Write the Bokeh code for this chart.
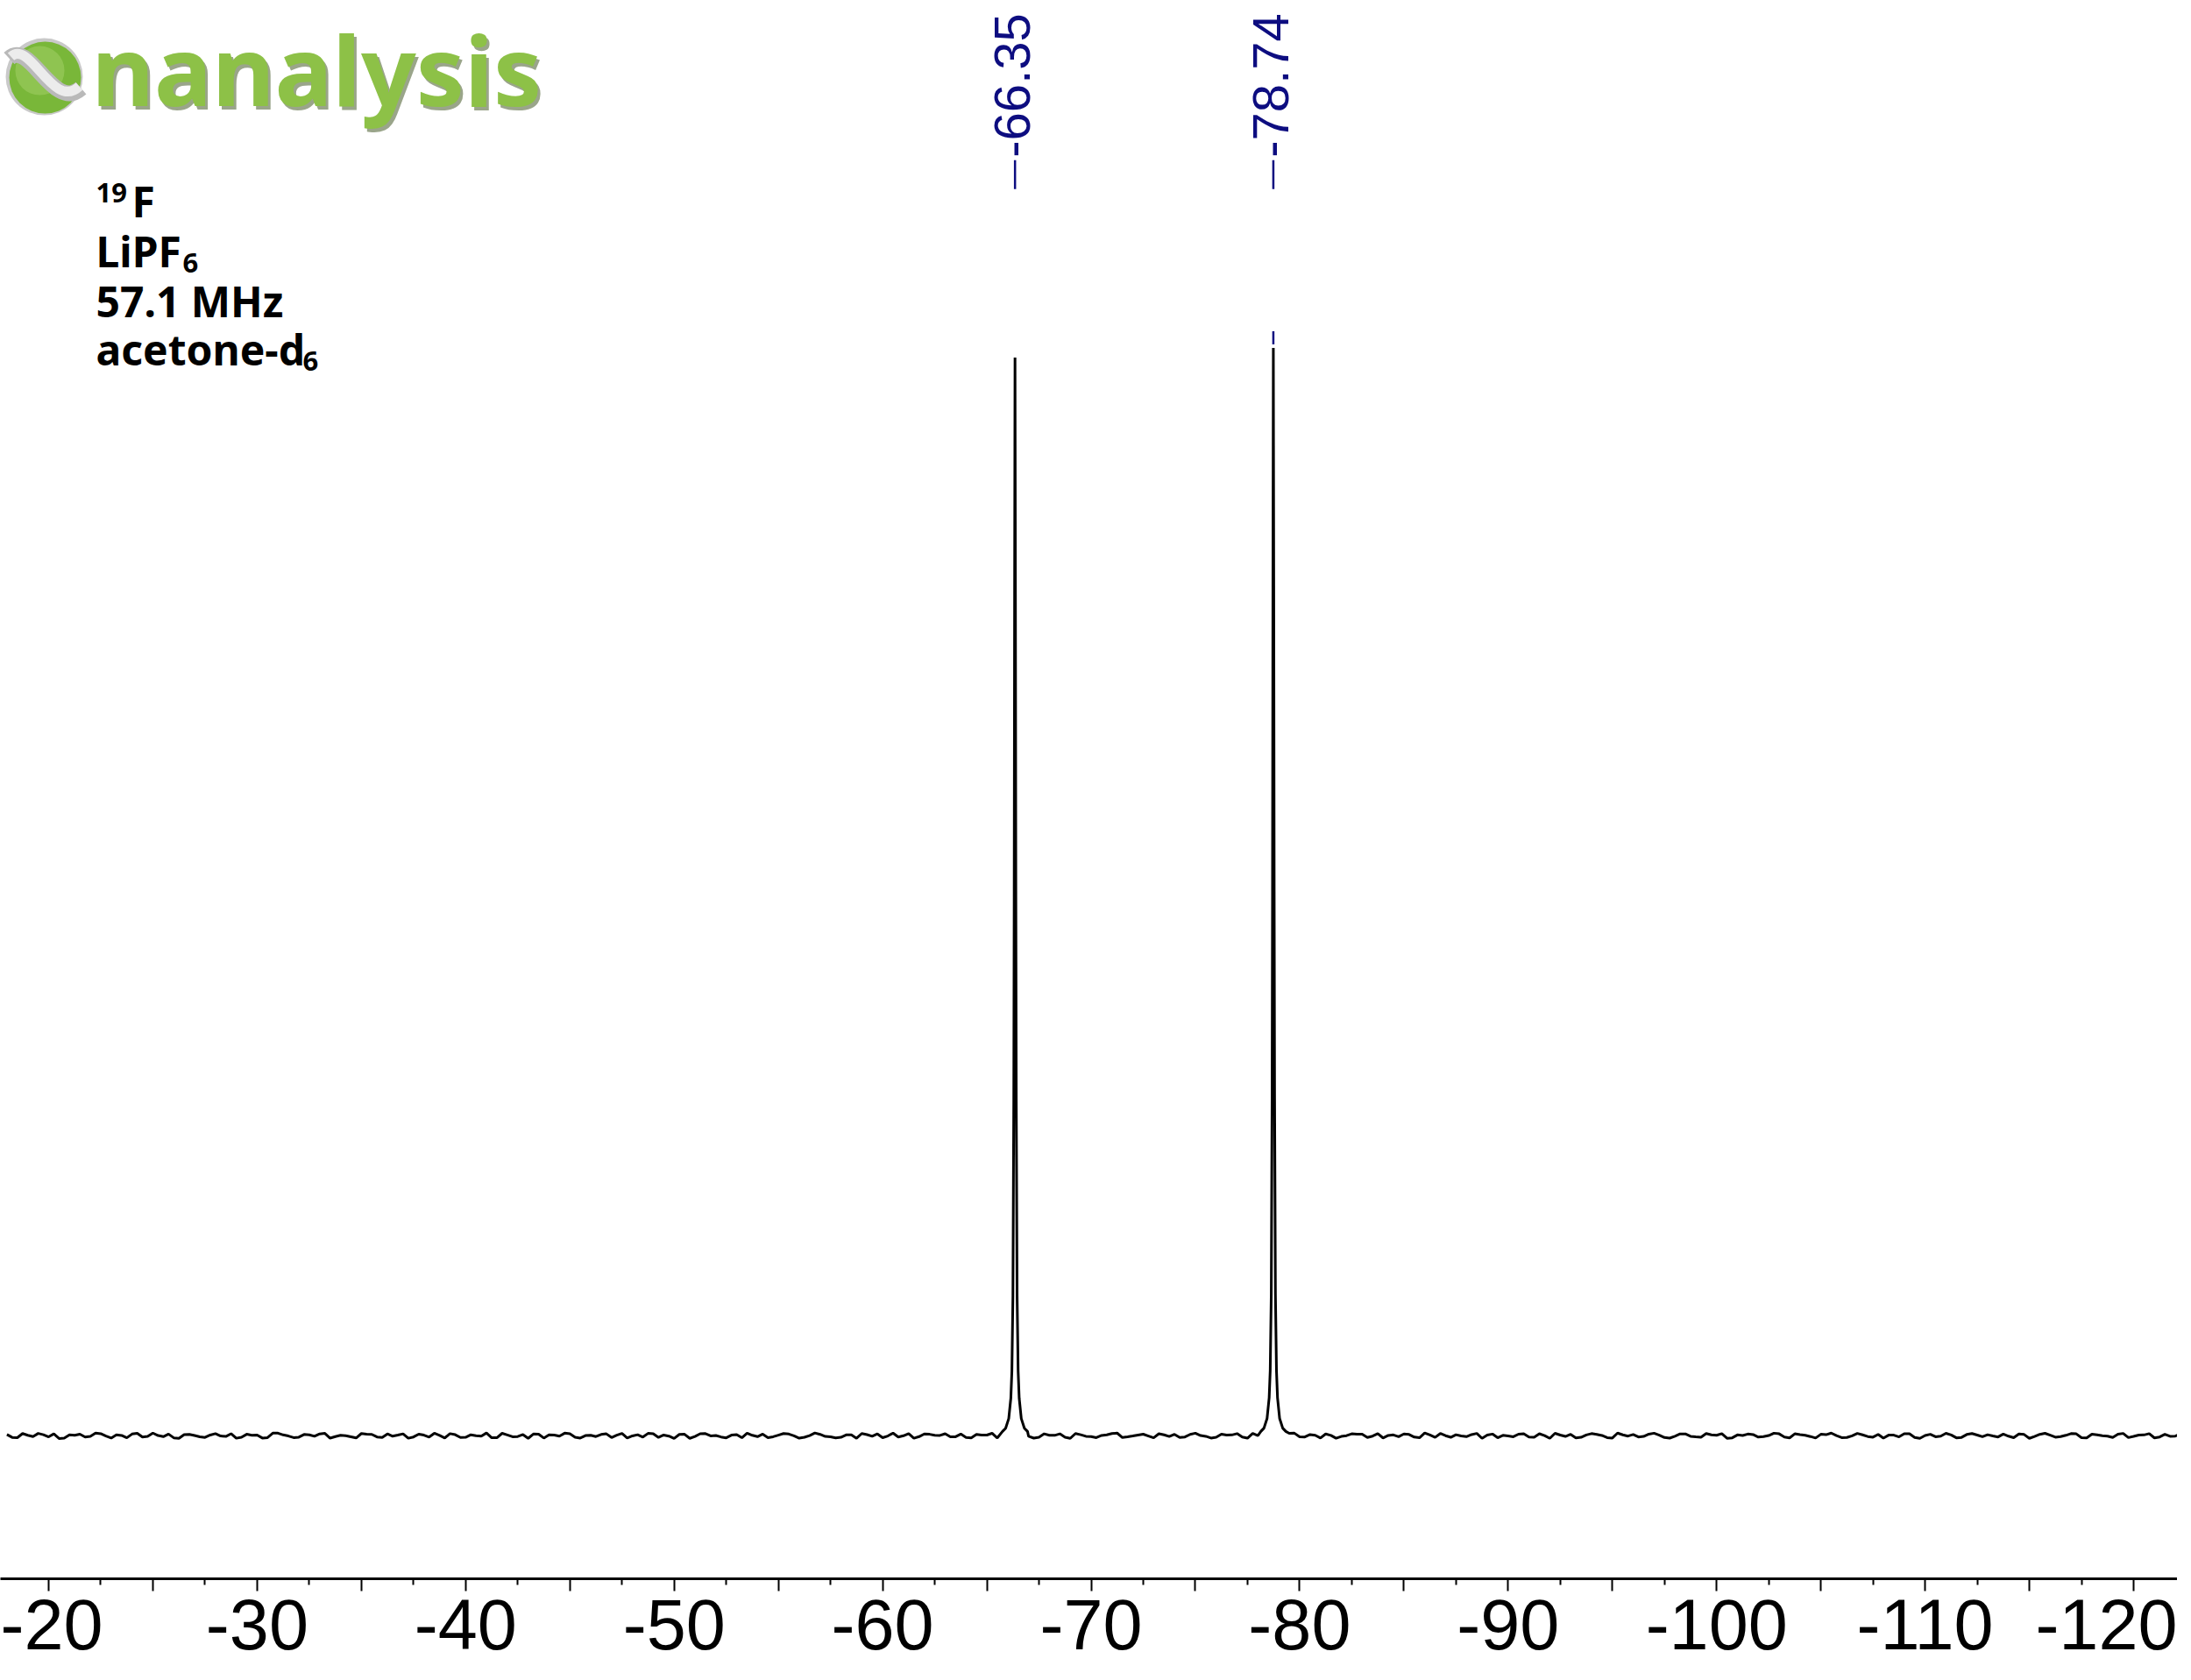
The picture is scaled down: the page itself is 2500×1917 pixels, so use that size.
import numpy as np
from bokeh.plotting import figure
from bokeh.models import Range1d, FixedTicker
from bokeh.core.properties import value
from bokeh.embed import file_html
from bokeh.resources import INLINE

# ---------------- data ----------------
PEAK_PPM = [-66.35, -78.74]
PEAK_HEIGHT = [100.0, 100.9]
PEAK_LABELS = ["-66.35", "-78.74"]

# peak line shape (offset in ppm, % of peak height)
PEAK_OFFSETS = [-0.6, -0.45, -0.3, -0.2, -0.15, -0.1, -0.06, -0.04, -0.02, 0.0,
                0.02, 0.04, 0.06, 0.1, 0.15, 0.2, 0.3, 0.45, 0.6]
PEAK_PROFILE = [0.4, 0.7, 1.6, 3.5, 6.0, 13.0, 31.0, 50.0, 78.0, 100.0,
                78.0, 50.0, 31.0, 13.0, 6.0, 3.5, 1.6, 0.7, 0.4]

# baseline noise (intensity units), sampled every 0.5 ppm on two interleaved grids
BASELINE_START = -18.0
BASELINE_STEP = -0.5
BASELINE_NOISE_A = [
    0.12, -0.18, 0.05, 0.22, -0.10, -0.25, 0.08, 0.15, -0.05, 0.19,
    -0.21, 0.03, 0.16, -0.12, 0.25, -0.08, -0.19, 0.11, 0.02, -0.15,
    0.20, -0.06, -0.23, 0.14, 0.07, -0.17, 0.24, -0.02, -0.13, 0.09,
    0.17, -0.22, 0.04, -0.09, 0.21, 0.13, -0.16, -0.04, 0.18, -0.11,
    0.06, 0.23, -0.20, 0.10, -0.14, 0.01, 0.26, -0.18, 0.08, -0.07,
    -0.24, 0.15, 0.09, -0.03, 0.19, -0.21, 0.05, 0.12, -0.16, 0.22,
    -0.01, -0.12, 0.18, 0.07, -0.25, 0.14, -0.06, 0.20, 0.03, -0.19,
    0.11, 0.24, -0.08, -0.17, 0.06, 0.16, -0.22, 0.02, 0.13, -0.10,
    -0.14, 0.08, 0.21, -0.05, -0.18, 0.25, 0.00, -0.23, 0.17, 0.04,
    0.19, -0.09, -0.15, 0.12, 0.07, -0.20, 0.14, 0.22, -0.04, -0.13,
    0.05, 0.18, -0.24, 0.10, -0.07, 0.03, 0.21, -0.16, -0.02, 0.15,
    -0.19, 0.09, 0.13, -0.11, 0.24, -0.05, -0.14, 0.06, 0.20, -0.22,
    0.02, -0.17, 0.16, 0.23, -0.09, 0.11, -0.21, 0.04, -0.06, 0.18,
    0.14, -0.03, -0.20, 0.08, 0.17, -0.12, 0.26, -0.15, 0.01, 0.10,
    -0.08, 0.22, 0.06, -0.18, -0.02, 0.15, -0.11, 0.19, -0.24, 0.07,
    0.13, -0.14, 0.20, 0.03, -0.21, 0.09, 0.12, -0.06, 0.24, -0.16,
    -0.04, 0.17, -0.10, 0.21, 0.05, -0.23, 0.08, 0.16, -0.12, 0.02,
    0.18, -0.20, 0.11, -0.07, 0.14, 0.25, -0.17, 0.00, 0.09, -0.13,
    -0.22, 0.06, 0.19, -0.15, 0.03, -0.09, 0.23, -0.19, 0.12, 0.07,
    0.10, -0.11, -0.04, 0.17, -0.24, 0.13, 0.05, -0.08, 0.20, -0.18,
    0.15, 0.01, -0.16, 0.22, -0.06, 0.08, -0.20, 0.14, -0.03, 0.11,
]
BASELINE_NOISE_B = [
    -0.15, 0.21, -0.07, 0.10, 0.18, -0.22, 0.04, -0.12, 0.25, -0.03,
    0.09, -0.19, 0.23, -0.06, 0.02, 0.16, -0.24, 0.13, -0.10, 0.07,
    -0.02, 0.19, -0.14, 0.05, -0.21, 0.24, 0.08, -0.17, 0.12, -0.05,
    0.22, -0.08, 0.01, -0.20, 0.14, -0.11, 0.17, 0.06, -0.23, 0.15,
    -0.12, 0.03, 0.20, -0.16, 0.09, -0.04, -0.18, 0.23, -0.09, 0.11,
    0.16, -0.21, 0.07, 0.24, -0.13, 0.02, -0.07, 0.18, 0.05, -0.20,
    0.10, 0.22, -0.15, -0.03, 0.13, -0.24, 0.19, -0.01, -0.11, 0.06,
    -0.18, 0.04, 0.15, -0.09, 0.21, 0.00, -0.14, 0.26, -0.06, -0.19,
    0.08, -0.23, 0.11, 0.17, -0.02, -0.12, 0.20, -0.08, 0.14, 0.03,
    -0.10, 0.16, -0.20, 0.06, 0.23, -0.15, 0.01, 0.12, -0.22, 0.18,
    0.04, -0.13, 0.21, -0.05, -0.17, 0.09, 0.25, -0.10, 0.07, -0.02,
    0.19, -0.07, -0.16, 0.13, 0.02, -0.21, 0.15, 0.08, -0.12, 0.22,
    -0.04, 0.10, -0.19, 0.24, -0.11, 0.05, 0.17, -0.23, 0.01, 0.14,
    -0.16, 0.20, 0.03, -0.08, 0.12, -0.18, 0.07, 0.21, -0.14, -0.01,
    0.11, -0.24, 0.16, 0.04, -0.09, 0.19, -0.13, 0.02, 0.23, -0.06,
    -0.20, 0.08, 0.13, -0.17, 0.25, -0.03, -0.11, 0.15, 0.06, -0.22,
    0.17, -0.05, -0.14, 0.09, 0.20, -0.19, 0.03, 0.11, -0.08, 0.24,
    -0.12, 0.18, 0.05, -0.21, 0.10, 0.01, -0.16, 0.22, -0.07, 0.13,
    0.06, -0.10, 0.19, -0.24, 0.14, -0.04, 0.08, -0.15, 0.21, -0.09,
    -0.01, 0.16, -0.18, 0.12, -0.06, 0.23, -0.13, 0.04, 0.18, -0.20,
    0.09, -0.03, 0.14, -0.17, 0.07, 0.20, -0.11, -0.05, 0.15, -0.08,
]

MAJOR_TICKS = [-20, -25, -30, -35, -40, -45, -50, -55, -60, -65, -70, -75, -80,
               -85, -90, -95, -100, -105, -110, -115, -120]
TICK_LABELS = ["-20", " ", "-30", " ", "-40", " ", "-50", " ", "-60", " ", "-70", " ",
               "-80", " ", "-90", " ", "-100", " ", "-110", " ", "-120"]
MINOR_TICKS = [-17.5, -22.5, -27.5, -32.5, -37.5, -42.5, -47.5, -52.5, -57.5, -62.5,
               -67.5, -72.5, -77.5, -82.5, -87.5, -92.5, -97.5, -102.5, -107.5,
               -112.5, -117.5, -122.5]

INFO_LINES = ["F", "LiPF", "57.1 MHz", "acetone-d"]
INFO_SUP = ["19"]
INFO_SUB = ["6", "6"]
LOGO_TEXT = ["nanalysis"]

# ---------------- layout helpers (reference pixel -> data) ----------------
FRAME_BOTTOM_PX = 1799

def X(px):
    return -20.0 - (px - 55.0) / 23.79

def Y(py):
    return (1636.0 - py) / 12.29

def YB(py, size):
    # text baseline at pixel row py for a font of `size` px
    return Y(py - 0.40 * size)

# ---------------- spectrum assembly ----------------
ppm = []
inten = []
for shift, noise in ((0.0, BASELINE_NOISE_A), (-0.25, BASELINE_NOISE_B)):
    grid = BASELINE_START + shift + BASELINE_STEP * np.arange(len(noise))
    for x, v in zip(grid, noise):
        if all(abs(x - c) > 0.6 for c in PEAK_PPM):
            ppm.append(float(x))
            inten.append(v)
for c, h in zip(PEAK_PPM, PEAK_HEIGHT):
    for o, pr in zip(PEAK_OFFSETS, PEAK_PROFILE):
        ppm.append(c + o)
        inten.append(h * pr / 100.0)
order = np.argsort(ppm)
ppm = np.array(ppm)[order]
inten = np.array(inten)[order]

# ---------------- figure ----------------
p = figure(width=2484, height=1901, output_backend="svg", toolbar_location=None,
           x_range=Range1d(X(0), X(2484)), y_range=Range1d(Y(FRAME_BOTTOM_PX), Y(0)),
           y_axis_location=None, min_border_left=0, min_border_right=0,
           min_border_top=0, min_border_bottom=0)
p.grid.visible = False
p.outline_line_color = None
p.background_fill_color = "white"
p.border_fill_color = "white"

ax = p.xaxis[0]
ax.ticker = FixedTicker(ticks=MAJOR_TICKS, minor_ticks=MINOR_TICKS)
ax.major_label_overrides = {t: l for t, l in zip(MAJOR_TICKS, TICK_LABELS)}
ax.major_label_text_font = "Liberation Sans"
ax.major_label_text_font_size = "81px"
ax.major_label_text_color = "black"
ax.major_label_standoff = -7
ax.major_tick_out = 14
ax.major_tick_in = 0
ax.minor_tick_out = 7
ax.minor_tick_in = 0
ax.major_tick_line_width = 2
ax.minor_tick_line_width = 2
ax.axis_line_width = 3
ax.axis_line_color = "black"

# spectrum
p.line(ppm, inten, line_color="black", line_width=3)

# peak labels
navy = "#0d0d80"
p.text(x=PEAK_PPM, y=[Y(179)] * 2, text=PEAK_LABELS, angle=np.pi / 2,
       text_align="left", text_baseline="middle", text_color=navy, x_offset=-3,
       text_font=value("Liberation Sans"), text_font_size="58px")
p.segment(x0=PEAK_PPM, y0=[Y(182)] * 2, x1=PEAK_PPM, y1=[Y(215)] * 2,
          line_color=navy, line_width=2.5)
p.segment(x0=[PEAK_PPM[1]], y0=[Y(377)], x1=[PEAK_PPM[1]], y1=[Y(392)],
          line_color=navy, line_width=2.5)

# info text block
bold = dict(text_font=value("Noto Sans"), text_font_style="bold",
            text_color="black", text_align="left", text_baseline="alphabetic")
p.text(x=[X(150), X(109), X(109), X(109)],
       y=[YB(248, 48), YB(305, 48), YB(362, 48), YB(417, 48)],
       text=INFO_LINES, text_font_size="48px", **bold)
p.text(x=[X(109)], y=[YB(232, 31)], text=INFO_SUP, text_font_size="31px", **bold)
p.text(x=[X(208), X(345)], y=[YB(312, 31), YB(423, 31)], text=INFO_SUB,
       text_font_size="31px", **bold)

# logo: word mark (shadow + face)
p.text(x=[X(107)], y=[YB(125, 110)], text=LOGO_TEXT, text_color="#9aa58a",
       text_font=value("Noto Sans"), text_font_style="bold",
       text_font_size="110px", text_align="left", text_baseline="alphabetic")
p.text(x=[X(104)], y=[YB(121, 110)], text=LOGO_TEXT, text_color="#8dc147",
       text_font=value("Noto Sans"), text_font_style="bold",
       text_font_size="110px", text_align="left", text_baseline="alphabetic")

# logo: sphere
p.scatter([X(50)], [Y(87)], size=88, marker="circle", fill_color="#c9c9c9",
          line_color=None)
p.scatter([X(51)], [Y(88)], size=82, marker="circle", fill_color="#79b739",
          line_color=None)
p.scatter([X(45)], [Y(80)], size=56, marker="circle", fill_color="#a3d066",
          fill_alpha=0.55, line_color=None)
p.bezier(x0=[X(10)], y0=[Y(66)], x1=[X(92)], y1=[Y(100)],
         cx0=[X(34)], cy0=[Y(44)], cx1=[X(60)], cy1=[Y(128)],
         line_color="#b9b9b9", line_width=18)
p.bezier(x0=[X(12)], y0=[Y(64)], x1=[X(90)], y1=[Y(98)],
         cx0=[X(34)], cy0=[Y(44)], cx1=[X(60)], cy1=[Y(126)],
         line_color="#ececec", line_width=11)

open("out.html", "w").write(file_html(p, INLINE))
